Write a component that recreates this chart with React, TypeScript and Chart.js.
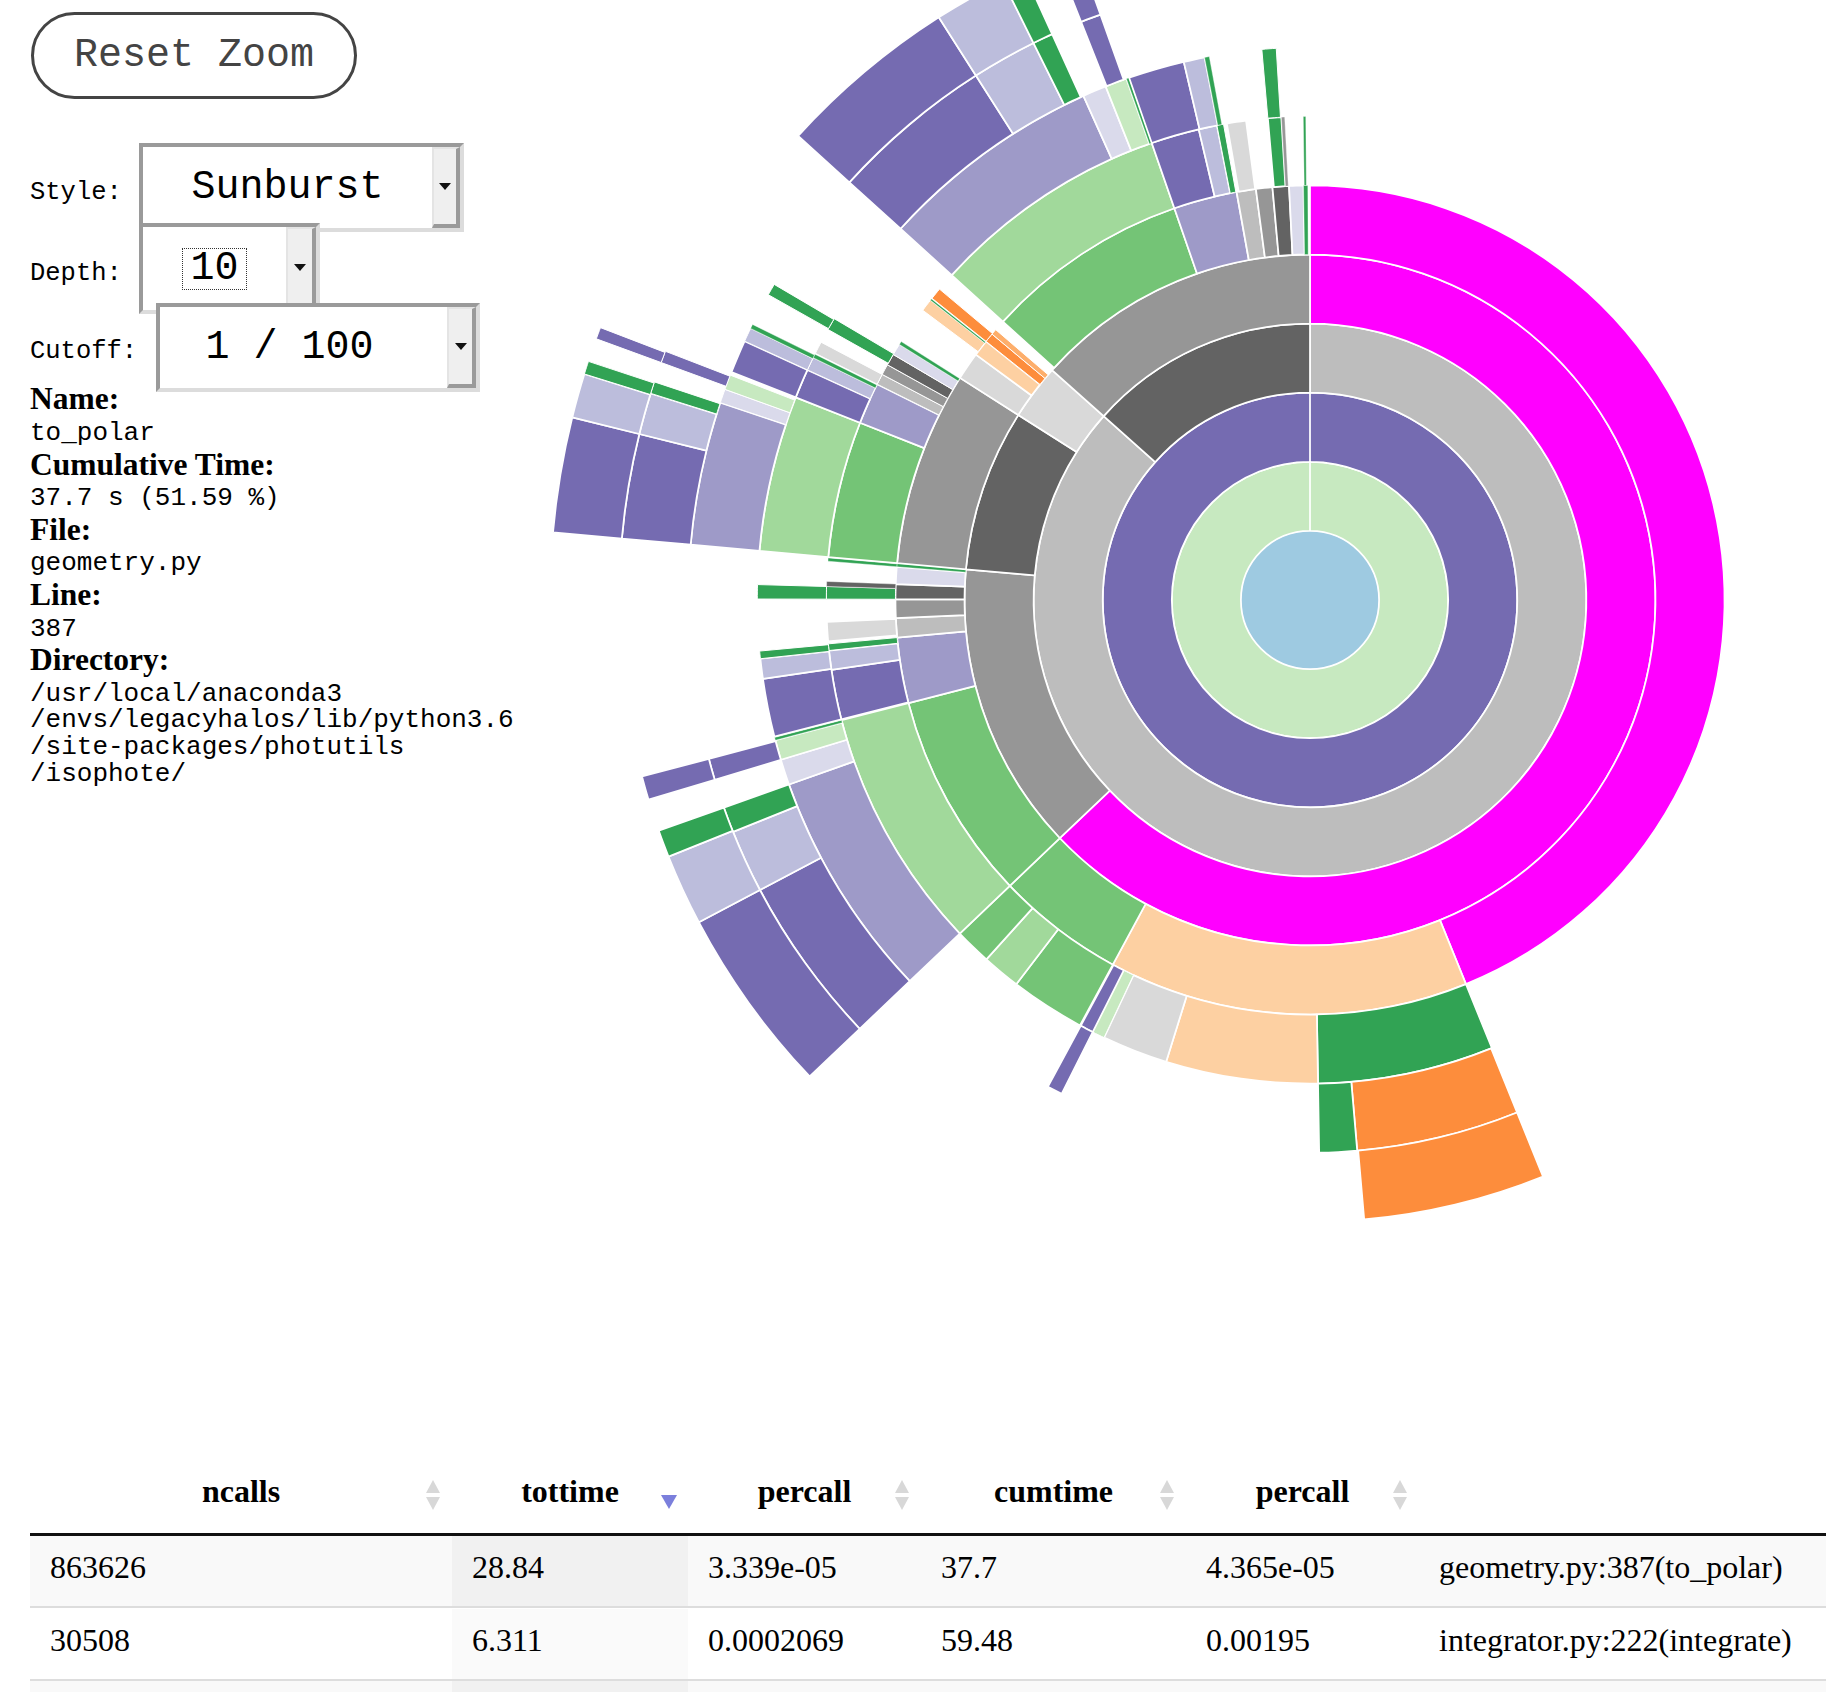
import React, { useEffect, useRef } from 'react';
import { Chart, registerables } from 'chart.js';

Chart.register(...registerables);

// category20c colour groups used by the sunburst
const PALETTE: Record<string, string> = {
  B: '#9ecae1',
  G1: '#31a354', G2: '#74c476', G3: '#a1d99b', G4: '#c7e9c0',
  P1: '#756bb1', P2: '#9e9ac8', P3: '#bcbddc', P4: '#dadaeb',
  K1: '#636363', K2: '#969696', K3: '#bdbdbd', K4: '#d9d9d9',
  O2: '#fd8d3c', O3: '#fdae6b', O4: '#fdd0a2',
  M: '#ff00ff',
};

type Seg = [number, number, string];

// Each ring: [start, end, colour group], in degrees of the zoomed root (clockwise from 12 o'clock)
const ring0: Seg[] = [[0, 360, 'B']];
const ring1: Seg[] = [[0, 360, 'G4']];
const ring2: Seg[] = [[0, 360, 'P1']];
const ring3: Seg[] = [[0, 311.7, 'K3'], [311.7, 360, 'K1']];
const ring4: Seg[] = [
  [0, 226.4, 'M'], [226.4, 275.1, 'K2'], [275.1, 302.4, 'K1'], [302.4, 311.7, 'K4'], [311.7, 360, 'K2'],
];
const ring5: Seg[] = [
  [0, 157.9, 'M'], [157.9, 208.4, 'O4'], [208.4, 226.4, 'G2'], [226.4, 255.6, 'G2'],
  [255.6, 264.8, 'P2'], [264.8, 267.5, 'K3'], [267.5, 270.1, 'K2'], [270.1, 272.2, 'K1'],
  [272.2, 274.6, 'P4'], [274.6, 275.1, 'G1'], [275.1, 302.4, 'K2'], [302.4, 306.3, 'K4'],
  [306.3, 308.6, 'O4'], [308.6, 309.9, 'O2'], [309.9, 310.7, 'O3'], [312.2, 340.9, 'G2'],
  [340.9, 349.8, 'P2'], [349.8, 352.5, 'K3'], [352.5, 354.8, 'K2'], [354.8, 357.1, 'K1'],
  [357.1, 359.1, 'P4'], [359.1, 359.7, 'G1'],
];
const ring6: Seg[] = [
  [157.9, 179.05, 'G1'], [179.05, 197.3, 'O4'], [197.3, 205.2, 'K4'], [205.2, 206.7, 'G4'],
  [206.7, 208.3, 'P1'], [208.4, 217.4, 'G2'], [217.4, 222.0, 'G3'], [222.0, 226.4, 'G2'],
  [226.4, 255.6, 'G3'], [255.7, 261.7, 'P1'], [261.7, 264.0, 'P3'], [264.0, 264.8, 'G1'],
  [265.1, 267.4, 'K4'], [270.1, 271.6, 'G1'], [271.6, 272.2, 'K1'], [274.6, 275.0, 'G1'],
  [275.1, 291.5, 'G2'], [291.5, 296.5, 'P2'], [296.5, 297.8, 'K3'], [297.8, 299.1, 'K2'],
  [299.1, 300.5, 'K1'], [300.5, 301.9, 'P4'], [301.9, 302.3, 'G1'], [306.8, 308.3, 'O4'],
  [308.3, 308.5, 'G1'], [308.6, 310.0, 'O2'], [312.2, 340.9, 'G3'], [340.9, 346.7, 'P1'],
  [346.7, 348.9, 'P3'], [348.9, 349.7, 'G1'], [350.1, 352.4, 'K4'], [355.0, 356.6, 'G1'],
  [356.6, 357.0, 'K2'], [359.2, 359.5, 'G1'],
];
const ring7: Seg[] = [
  [158.0, 175.1, 'O2'], [175.1, 179.05, 'G1'], [206.7, 208.3, 'P1'], [226.4, 250.5, 'P2'],
  [250.5, 253.2, 'P4'], [253.2, 255.3, 'G4'], [255.3, 255.6, 'G1'], [255.7, 261.8, 'P1'],
  [261.8, 263.9, 'P3'], [263.9, 264.7, 'G1'], [270.1, 271.6, 'G1'], [275.1, 291.5, 'G3'],
  [291.5, 294.6, 'P1'], [294.6, 296.0, 'P3'], [296.0, 296.4, 'G1'], [296.5, 297.8, 'K4'],
  [299.3, 300.6, 'G1'], [312.2, 335.8, 'P2'], [335.8, 338.3, 'P4'], [338.3, 340.6, 'G4'],
  [340.6, 340.9, 'G1'], [340.9, 346.8, 'P1'], [346.8, 349.0, 'P3'], [349.0, 349.5, 'G1'],
  [355.0, 356.5, 'G1'],
];
const ring8: Seg[] = [
  [158.0, 175.0, 'O2'], [226.4, 242.2, 'P1'], [242.2, 248.1, 'P3'], [248.1, 250.5, 'G1'],
  [253.2, 255.2, 'P1'], [275.1, 288.5, 'P2'], [288.5, 289.8, 'P4'], [289.8, 291.2, 'G4'],
  [291.5, 294.6, 'P1'], [294.6, 295.9, 'P3'], [295.9, 296.3, 'G1'], [299.4, 300.5, 'G1'],
  [312.2, 327.5, 'P1'], [327.5, 333.6, 'P3'], [333.6, 335.5, 'G1'], [338.4, 340.3, 'P1'],
];
const ring9: Seg[] = [
  [226.4, 242.2, 'P1'], [242.2, 248.2, 'P3'], [248.2, 250.5, 'G1'], [253.2, 255.2, 'P1'],
  [275.1, 283.9, 'P1'], [283.9, 287.4, 'P3'], [287.4, 288.4, 'G1'], [290.1, 291.1, 'P1'],
  [312.2, 327.5, 'P1'], [327.5, 333.6, 'P3'], [333.6, 335.5, 'G1'], [338.4, 340.3, 'P1'],
];
const ring10: Seg[] = [
  [275.1, 283.9, 'P1'], [283.9, 287.3, 'P3'], [287.3, 288.3, 'G1'], [290.1, 291.0, 'P1'],
];

const RINGS: Seg[][] = [ring0, ring1, ring2, ring3, ring4, ring5, ring6, ring7, ring8, ring9, ring10];

const INFO_LINES: [string, 'h' | 'm'][] = [
  ['Name:', 'h'], ['to_polar', 'm'],
  ['Cumulative Time:', 'h'], ['37.7 s (51.59 %)', 'm'],
  ['File:', 'h'], ['geometry.py', 'm'],
  ['Line:', 'h'], ['387', 'm'],
  ['Directory:', 'h'], ['/usr/local/anaconda3', 'm'], ['/envs/legacyhalos/lib/python3.6', 'm'],
  ['/site-packages/photutils', 'm'], ['/isophote/', 'm'],
];

const TABLE_HEADERS = ['ncalls', 'tottime', 'percall', 'cumtime', 'percall', ''];
const TABLE_SORT = ['both', 'desc', 'both', 'both', 'both', ''];
const TABLE_ROWS = [
  ['863626', '28.84', '3.339e-05', '37.7', '4.365e-05', 'geometry.py:387(to_polar)'],
  ['30508', '6.311', '0.0002069', '59.48', '0.00195', 'integrator.py:222(integrate)'],
  ['', '', '', '', '', ''],
];

const MONO = '"Liberation Mono", "DejaVu Sans Mono", monospace';
const SERIF = '"Liberation Serif", "DejaVu Serif", serif';

const CX = 1310;
const CY = 600;
const R = 760;
const COLS = [30, 452, 688, 921, 1186, 1419, 1826];

function buildRing(ring: Seg[], inner: boolean) {
  const data: number[] = [];
  const bg: string[] = [];
  const bw: number[] = [];
  let pos = 0;
  for (const [a, b, k] of ring) {
    if (a - pos > 0.001) {
      data.push(a - pos);
      bg.push('rgba(0,0,0,0)');
      bw.push(0);
    }
    const span = b - a;
    data.push(span);
    bg.push(PALETTE[k]);
    bw.push(inner ? 0 : span < 0.8 ? 0.4 : span < 1.6 ? 1 : 1.75);
    pos = b;
  }
  if (360 - pos > 0.001) {
    data.push(360 - pos);
    bg.push('rgba(0,0,0,0)');
    bw.push(0);
  }
  return { data, backgroundColor: bg, borderWidth: bw, borderColor: '#ffffff' };
}

function Select(props: {
  left: number; top: number; width: number; height: number; arrowW: number;
  padRight?: number; children: React.ReactNode;
}) {
  const { left, top, width, height, arrowW, padRight = 0, children } = props;
  return (
    <div
      style={{
        position: 'absolute', left, top, width, height, boxSizing: 'border-box',
        background: '#fff', borderStyle: 'solid', borderWidth: 4,
        borderColor: '#9a9a9a #dcdcdc #dcdcdc #9a9a9a',
      }}
    >
      <div
        style={{
          position: 'absolute', left: 0, top: 0, bottom: 0, right: arrowW + padRight,
          display: 'flex', alignItems: 'center', justifyContent: 'center',
          fontFamily: MONO, fontSize: 40, color: '#000', whiteSpace: 'pre',
        }}
      >
        {children}
      </div>
      <div
        style={{
          position: 'absolute', right: 0, top: 0, bottom: 0, width: arrowW, boxSizing: 'border-box',
          background: '#efefef', borderStyle: 'solid', borderWidth: '2px 4px 4px 2px',
          borderColor: '#e4e4e4 #9a9a9a #9a9a9a #e4e4e4',
        }}
      >
        <div
          style={{
            position: 'absolute', left: '50%', top: '50%', marginLeft: -6, marginTop: -4,
            width: 0, height: 0, borderLeft: '6px solid transparent',
            borderRight: '6px solid transparent', borderTop: '7px solid #111',
          }}
        />
      </div>
    </div>
  );
}

function SortIcon({ x, kind }: { x: number; kind: string }) {
  if (!kind) return null;
  if (kind === 'desc') {
    return (
      <div
        style={{
          position: 'absolute', left: x - 8, top: 1495, width: 0, height: 0,
          borderLeft: '8px solid transparent', borderRight: '8px solid transparent',
          borderTop: '14px solid #7b7fdc',
        }}
      />
    );
  }
  return (
    <>
      <div
        style={{
          position: 'absolute', left: x - 7, top: 1480, width: 0, height: 0,
          borderLeft: '7px solid transparent', borderRight: '7px solid transparent',
          borderBottom: '13px solid #d8d8d8',
        }}
      />
      <div
        style={{
          position: 'absolute', left: x - 7, top: 1497, width: 0, height: 0,
          borderLeft: '7px solid transparent', borderRight: '7px solid transparent',
          borderTop: '13px solid #d8d8d8',
        }}
      />
    </>
  );
}

export default function App() {
  const canvasRef = useRef<HTMLCanvasElement>(null);

  useEffect(() => {
    const canvas = canvasRef.current;
    if (!canvas) return;
    const datasets = RINGS.map((r, i) => buildRing(r, i === 0)).reverse();
    const chart = new Chart(canvas, {
      type: 'doughnut',
      data: { labels: [], datasets: datasets as any },
      options: {
        responsive: false,
        maintainAspectRatio: false,
        animation: false,
        cutout: 0,
        radius: R,
        rotation: 0,
        circumference: 360,
        events: [],
        layout: { padding: 0 },
        plugins: { legend: { display: false }, tooltip: { enabled: false }, title: { display: false } },
      } as any,
    });
    return () => chart.destroy();
  }, []);

  const rowTops = [1536, 1608.5, 1681];

  return (
    <div
      style={{
        position: 'absolute', left: 0, top: 0, width: 1826, height: 1692,
        overflow: 'hidden', background: '#fff',
      }}
    >
      <canvas
        ref={canvasRef}
        width={2 * R}
        height={2 * R}
        style={{ position: 'absolute', left: CX - R, top: CY - R, width: 2 * R, height: 2 * R }}
      />

      {/* Reset Zoom button */}
      <div
        style={{
          position: 'absolute', left: 31, top: 12, width: 326, height: 87, boxSizing: 'border-box',
          border: '3px solid #444', borderRadius: 44, background: '#fff',
          display: 'flex', alignItems: 'center', justifyContent: 'center',
          fontFamily: MONO, fontSize: 40, color: '#444',
        }}
      >
        Reset Zoom
      </div>

      {/* labels */}
      <div style={{ position: 'absolute', left: 30, top: 179.5, fontFamily: MONO, fontSize: 25.5, lineHeight: '25.5px', color: '#000' }}>Style:</div>
      <div style={{ position: 'absolute', left: 30, top: 260.5, fontFamily: MONO, fontSize: 25.5, lineHeight: '25.5px', color: '#000' }}>Depth:</div>
      <div style={{ position: 'absolute', left: 30, top: 338.5, fontFamily: MONO, fontSize: 25.5, lineHeight: '25.5px', color: '#000' }}>Cutoff:</div>

      {/* selects */}
      <Select left={139} top={143} width={325} height={89} arrowW={28}>Sunburst</Select>
      <Select left={139} top={223} width={181} height={91} arrowW={30}>
        <span style={{ display: 'inline-block', lineHeight: '40px', padding: '0 7px', border: '1px dotted #333' }}>10</span>
      </Select>
      <Select left={156} top={303} width={324} height={89} arrowW={29} padRight={28}>1 / 100</Select>

      {/* info panel */}
      <div style={{ position: 'absolute', left: 30, top: 381.4, color: '#000' }}>
        {INFO_LINES.map(([t, k], i) =>
          k === 'h' ? (
            <div key={i} style={{ fontFamily: SERIF, fontWeight: 'bold', fontSize: 31.5, lineHeight: '36px', marginBottom: 2.5, whiteSpace: 'pre' }}>{t}</div>
          ) : (
            <div key={i} style={{ fontFamily: MONO, fontSize: 26, lineHeight: '26.7px', whiteSpace: 'pre' }}>{t}</div>
          )
        )}
      </div>

      {/* table */}
      {TABLE_HEADERS.map((h, i) => (
        <div
          key={'h' + i}
          style={{
            position: 'absolute', left: COLS[i], width: COLS[i + 1] - COLS[i], top: 1475.2,
            textAlign: 'center', fontFamily: SERIF, fontWeight: 'bold', fontSize: 32, lineHeight: '32px', color: '#000',
          }}
        >
          {h}
        </div>
      ))}
      {TABLE_SORT.map((s, i) => (
        <SortIcon key={'s' + i} x={COLS[i + 1] - 19} kind={s} />
      ))}
      <div style={{ position: 'absolute', left: 30, right: 0, top: 1533, height: 3, background: '#111' }} />
      {TABLE_ROWS.map((row, ri) => (
        <React.Fragment key={'r' + ri}>
          <div
            style={{
              position: 'absolute', left: 30, right: 0, top: rowTops[ri], height: 70,
              background: ri % 2 === 0 ? '#f9f9f9' : '#ffffff',
            }}
          />
          <div
            style={{
              position: 'absolute', left: COLS[1], width: COLS[2] - COLS[1], top: rowTops[ri], height: 70,
              background: ri % 2 === 0 ? '#f1f1f1' : '#fafafa',
            }}
          />
          <div
            style={{ position: 'absolute', left: 30, right: 0, top: rowTops[ri] + 70, height: 2, background: '#dddddd' }}
          />
          {row.map((c, ci) => (
            <div
              key={ci}
              style={{
                position: 'absolute', left: COLS[ci] + 20, top: rowTops[ri] + 42 - 26.8 + 0, whiteSpace: 'pre',
                fontFamily: SERIF, fontSize: 32, lineHeight: '32px', color: '#000',
              }}
            >
              {c}
            </div>
          ))}
        </React.Fragment>
      ))}
    </div>
  );
}
